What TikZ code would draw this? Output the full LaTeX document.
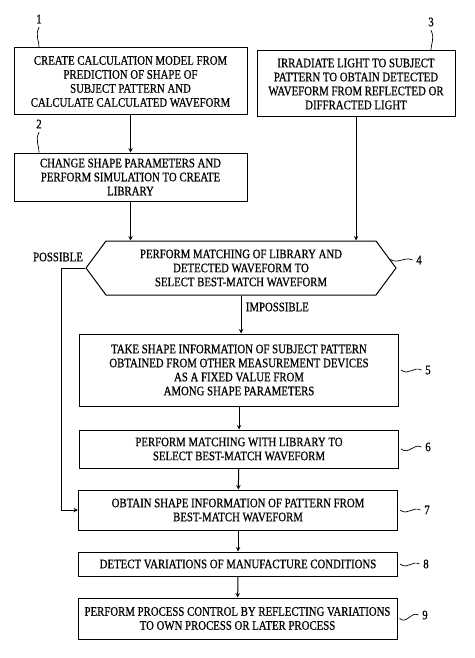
\documentclass[tikz,border=0pt]{standalone}
\usepackage{fontspec}
\setmainfont[FakeStretch=0.83, FakeBold=0.6]{Liberation Serif}
\usetikzlibrary{shapes.symbols}
\begin{document}
\begin{tikzpicture}[x=1pt, y=-1pt, font=\fontsize{13}{14}\selectfont, line width=1pt,
	box/.style={draw, align=center, inner sep=0pt, minimum width=319pt},
	leader/.style={line width=0.7pt},
	flow/.style={->, >=stealth}]
	\useasboundingbox (0, 0) rectangle (474, 658);
	
	% Boxes
	\node[box, minimum width=233pt, minimum height=67pt] (model) at (130.5, 81.5) {CREATE CALCULATION MODEL FROM\\PREDICTION OF SHAPE OF\\SUBJECT PATTERN AND\\CALCULATE CALCULATED WAVEFORM};
	\node[box, minimum width=198pt, minimum height=66pt] (irradiate) at (356, 84) {IRRADIATE LIGHT TO SUBJECT\\PATTERN TO OBTAIN DETECTED\\WAVEFORM FROM REFLECTED OR\\DIFFRACTED LIGHT};
	\node[box, minimum width=233pt, minimum height=48pt] (library) at (130.5, 177) {CHANGE SHAPE PARAMETERS AND\\PERFORM SIMULATION TO CREATE\\LIBRARY};
	\node[draw, signal, signal to=west and east, signal pointer angle=107, align=center, inner sep=0pt, minimum width=310pt, minimum height=54pt] (match) at (241, 268) {PERFORM MATCHING OF LIBRARY AND\\DETECTED WAVEFORM TO\\SELECT BEST-MATCH WAVEFORM};
	\node[box, minimum height=72pt] (fixed) at (239, 370) {TAKE SHAPE INFORMATION OF SUBJECT PATTERN\\OBTAINED FROM OTHER MEASUREMENT DEVICES\\AS A FIXED VALUE FROM\\AMONG SHAPE PARAMETERS};
	\node[box, minimum height=38pt] (select) at (239, 449) {PERFORM MATCHING WITH LIBRARY TO\\SELECT BEST-MATCH WAVEFORM};
	\node[box, minimum height=40pt] (shapeinfo) at (238, 510) {OBTAIN SHAPE INFORMATION OF PATTERN FROM\\BEST-MATCH WAVEFORM};
	\node[box, minimum height=24pt] (detect) at (238, 564) {DETECT VARIATIONS OF MANUFACTURE CONDITIONS};
	\node[box, minimum height=41pt] (control) at (237.5, 618.5) {PERFORM PROCESS CONTROL BY REFLECTING VARIATIONS\\TO OWN PROCESS OR LATER PROCESS};
	
	% Flow
	\draw[flow] (model) -- (library);
	\draw[flow] (library) -- (library |- match.north);
	\draw[flow] (irradiate) -- (irradiate |- match.north);
	\draw[flow] (match.south) -- (match.south |- fixed.north);
	\draw[flow] (fixed) -- (select);
	\draw[flow] (select) -- (shapeinfo);
	\draw[flow] (shapeinfo) -- (detect);
	\draw[flow] (detect) -- (control);
	\draw[flow] (match.west) -- ++(-24, 0) |- (shapeinfo.west);
	\node (possible) at (58, 257) {POSSIBLE};
	\node[anchor=west] (impossible) at (242, 307) {IMPOSSIBLE};
	
	% Step numbers
	\node (n1) at (39, 19) {1};
	\node (n2) at (39, 124) {2};
	\node (n3) at (431, 22) {3};
	\node (n4) at (419, 260) {4};
	\node (n5) at (428, 370) {5};
	\node (n6) at (428, 447) {6};
	\node (n7) at (427, 510) {7};
	\node (n8) at (426, 564) {8};
	\node (n9) at (425, 615) {9};
	\draw[leader] (n1.south) .. controls +(-4, 9) and +(0, -8) .. (n1.south |- model.north);
	\draw[leader] (n2.south) .. controls +(-4, 9) and +(0, -8) .. (n2.south |- library.north);
	\draw[leader] (n3.south) .. controls +(4, 9) and +(0, -8) .. (n3.south |- irradiate.north);
	\draw[leader] ([xshift=-7pt, yshift=9pt]match.east) .. controls +(8, 6) and +(-8, -4) .. (n4.west);
	\draw[leader] ([xshift=2pt]fixed.east) .. controls +(8, 6) and +(-8, -4) .. (n5.west);
	\draw[leader] ([xshift=2pt]select.east) .. controls +(8, 6) and +(-8, -4) .. (n6.west);
	\draw[leader] ([xshift=2pt]shapeinfo.east) .. controls +(8, 6) and +(-8, -4) .. (n7.west);
	\draw[leader] ([xshift=2pt]detect.east) .. controls +(8, 6) and +(-8, -4) .. (n8.west);
	\draw[leader] ([xshift=2pt]control.east) .. controls +(8, 6) and +(-8, -4) .. (n9.west);
\end{tikzpicture}
\end{document}
